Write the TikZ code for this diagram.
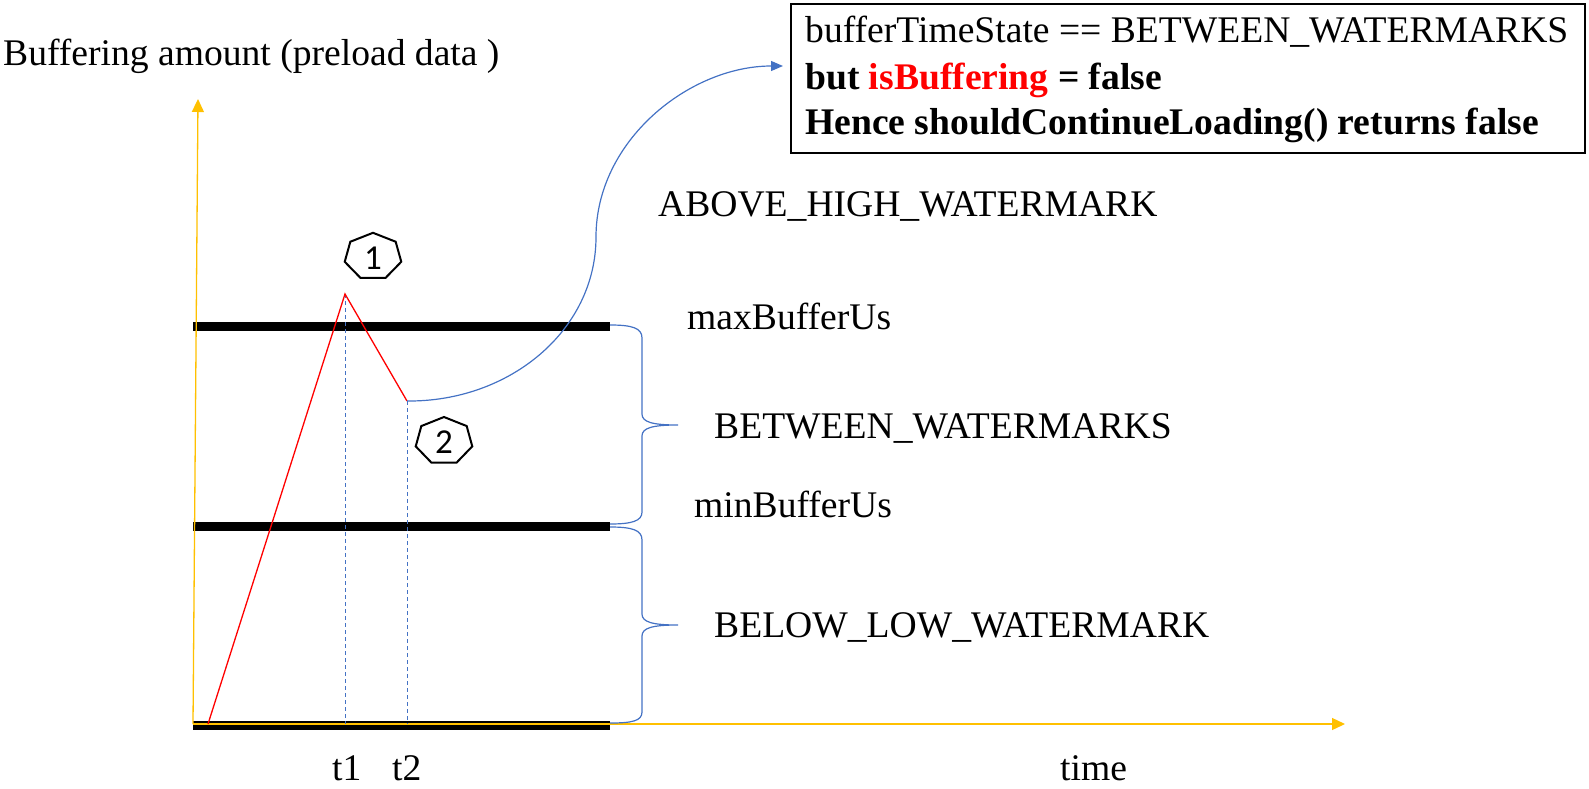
\documentclass[tikz,border=0pt]{standalone}
\usepackage{fontspec}
\setmainfont{Liberation Serif}
\newfontfamily\numfont{Carlito}
\usetikzlibrary{arrows.meta,calc}
\definecolor{ablue}{HTML}{4472C4}
\definecolor{aorange}{HTML}{FFC000}
\begin{document}
\begin{tikzpicture}[x=1pt,y=-1pt,
  lbl/.style={anchor=base west, inner sep=0pt, font=\fontsize{37.6}{44}\selectfont},
  level/.style={line width=9pt, black},
  axis/.style={aorange, line width=1.3pt, -{Triangle[length=13pt,width=12pt]}},
  bracestyle/.style={ablue, line width=1.2pt},
  guide/.style={ablue, line width=1pt, dash pattern=on 4pt off 3pt},
  buf/.style={red, line width=1.3pt},
  hept/.style={line width=2pt, black},
  num/.style={inner sep=0pt, font=\numfont\fontsize{35}{40}\selectfont}]
\useasboundingbox (0,0) rectangle (1589,789);

% level lines
\draw[level] (193,326) -- (610,326);
\draw[level] (193,526) -- (610,526);
\draw[level] (193,725) -- (610,725);

% axes
\coordinate (o) at (193,724);
\coordinate (ytip) at (198,99);
\coordinate (xtip) at (1345,724);
\draw[axis] (o) -- (ytip);
\draw[axis] (o) -- (xtip);

% braces
\draw[bracestyle] (610,325) .. controls (632,325) and (642,328) .. (642,338)
  -- (642,414) .. controls (642,422) and (652,425) .. (678,425)
  .. controls (652,425) and (642,428) .. (642,436)
  -- (642,512) .. controls (642,521) and (632,524) .. (610,524);
\draw[bracestyle] (610,527) .. controls (632,527) and (642,530) .. (642,540)
  -- (642,614) .. controls (642,622) and (652,625) .. (678,625)
  .. controls (652,625) and (642,628) .. (642,636)
  -- (642,712) .. controls (642,721) and (632,723) .. (610,723);

% buffer curve
\coordinate (p0) at (208,724);
\coordinate (p1) at (345,294);
\coordinate (p2) at (407,401);
\coordinate (t1base) at (345,724);
\coordinate (t2base) at (407,724);
\draw[guide] (p1) -- (t1base);
\draw[guide] (p2) -- (t2base);
\draw[buf] (p0) -- (p1) -- (p2);

% box
\node[draw, line width=2pt, minimum width=794pt, minimum height=149pt, inner sep=0pt, anchor=north west] (box) at (790,3) {};
\node[lbl] (l1) at (805,43) {bufferTimeState == BETWEEN\_WATERMARKS};
\node[lbl] (l2) at (805,90) {\textbf{but \textcolor{red}{isBuffering} = false}};
\node[lbl] (l3) at (805,135) {\textbf{Hence shouldContinueLoading() returns false}};

% connector
\coordinate (boxin) at (783,66);
\draw[ablue, line width=1.2pt, -{Triangle[length=12pt,width=10pt]}] (p2)
  .. controls (510,402) and (596,330) .. (596,237)
  .. controls (596,140) and (690,66) .. (boxin);

% heptagons
\node[num] (h1) at (373,258) {1};
\draw[hept, shift={(373,256.5)}, x=29pt, y=23.7pt]
  (90:1) -- (141.43:1) -- (192.86:1) -- (244.29:1) -- (295.71:1) -- (347.14:1) -- (38.57:1) -- cycle;
\node[num] (h2) at (444,442) {2};
\draw[hept, shift={(444,441)}, x=29pt, y=24pt]
  (90:1) -- (141.43:1) -- (192.86:1) -- (244.29:1) -- (295.71:1) -- (347.14:1) -- (38.57:1) -- cycle;

% labels
\node[lbl] (ylabel) at (3,66) {Buffering amount (preload data )};
\node[lbl] (above) at (658,216) {ABOVE\_HIGH\_WATERMARK};
\node[lbl] (maxb) at (687,329) {maxBufferUs};
\node[lbl] (between) at (714,438) {BETWEEN\_WATERMARKS};
\node[lbl] (minb) at (694,517) {minBufferUs};
\node[lbl] (below) at (714,637) {BELOW\_LOW\_WATERMARK};
\node[lbl] (t1) at (332,780) {t1};
\node[lbl] (t2) at (392,780) {t2};
\node[lbl] (time) at (1060,780) {time};
\end{tikzpicture}
\end{document}
